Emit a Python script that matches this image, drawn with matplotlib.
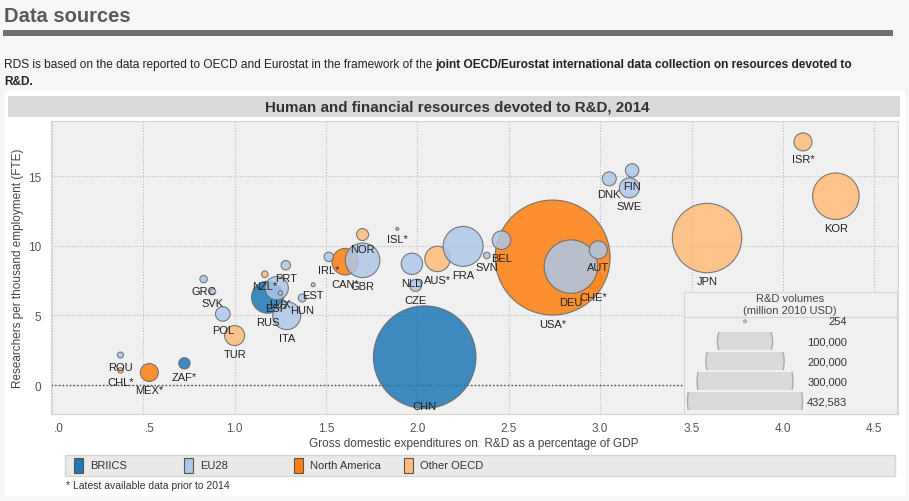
import numpy as np
import matplotlib.pyplot as plt
from matplotlib.patches import Rectangle, Circle
from matplotlib.transforms import ScaledTranslation

plt.rcParams['font.family'] = ['Liberation Sans', 'DejaVu Sans']

# ---- data ----
countries = ['CHN', 'RUS', 'ZAF*',
             'DEU', 'FRA', 'GBR', 'ITA', 'ESP', 'NLD', 'SWE', 'AUT', 'BEL', 'POL',
             'DNK', 'FIN', 'CZE', 'PRT', 'IRL*', 'HUN', 'GRC', 'SVN', 'SVK', 'ROU',
             'EST', 'LUX',
             'USA*', 'CAN*', 'MEX*',
             'JPN', 'KOR', 'AUS*', 'CHE*', 'TUR', 'ISR*', 'NOR', 'NZL*', 'CHL*', 'ISL*']
gerd_pct = [2.04, 1.18, 0.725,
            2.84, 2.25, 1.70, 1.285, 1.23, 1.97, 3.16, 2.99, 2.46, 0.935,
            3.05, 3.175, 1.99, 1.28, 1.515, 1.37, 0.83, 2.38, 0.88, 0.375,
            1.43, 1.25,
            2.74, 1.605, 0.533,
            3.585, 4.29, 2.11, 2.96, 1.0, 4.11, 1.70, 1.165, 0.375, 1.89]
researchers = [2.0, 6.3, 1.56,
               8.5, 9.95, 8.95, 4.98, 6.95, 8.7, 14.15, 9.7, 10.4, 5.1,
               14.8, 15.4, 7.15, 8.6, 9.2, 6.25, 7.6, 9.3, 6.7, 2.15,
               7.2, 6.6,
               9.15, 8.85, 0.9,
               10.55, 13.55, 9.05, 7.6, 3.55, 17.45, 10.8, 7.95, 1.05, 11.2]
volume = [344000, 33500, 4200,
          93300, 52300, 39200, 25600, 17800, 15000, 13100, 10600, 11300, 7000,
          6400, 5900, 4700, 2900, 2900, 2100, 1800, 1400, 1200, 1200,
          520, 600,
          432583, 23100, 10600,
          157500, 71000, 21100, 11300, 13100, 10600, 4700, 1400, 1000, 254]
group = (['BRIICS'] * 3 + ['EU28'] * 22 + ['North America'] * 3 + ['Other OECD'] * 10)

legend_groups = ['BRIICS', 'EU28', 'North America', 'Other OECD']
group_colors = {'BRIICS': '#1f77b4', 'EU28': '#aec7e8',
                'North America': '#ff7f0e', 'Other OECD': '#ffbb78'}
draw_order = ['Other OECD', 'BRIICS', 'North America', 'EU28']

size_legend_vals = [254, 100000, 200000, 300000, 432583]
size_legend_labels = ['254', '100,000', '200,000', '300,000', '432,583']

W, H = 909, 502
vmax = 432583
rmax_px = 57.5


def fx(px):
    return px / W


def fy(py):
    return 1 - py / H


fig = plt.figure(figsize=(W / 100, H / 100), dpi=100, facecolor='#f6f6f6')

# white panel and header
fig.patches.append(Rectangle((fx(5), fy(497)), 900 / W, 405 / H, transform=fig.transFigure,
                             facecolor='white', edgecolor='none', zorder=-5))
fig.text(fx(4), fy(16), 'Data sources', fontsize=14.5, weight='bold', color='#595959', va='center')
fig.patches.append(Rectangle((fx(3), fy(37)), 890 / W, 6 / H, transform=fig.transFigure,
                             facecolor='#6e6e6e', edgecolor='none', zorder=-4))

t1 = fig.text(fx(4), fy(65), 'RDS is based on the data reported to OECD and Eurostat in the framework of the ',
              fontsize=8.58, color='#222222', va='center')
fig.canvas.draw()
bb = t1.get_window_extent()
fig.text(bb.x1 / W, fy(65), 'joint OECD/Eurostat international data collection on resources devoted to',
         fontsize=8.58, color='#222222', va='center', weight='bold')
fig.text(fx(4), fy(82), 'R&D.', fontsize=8.58, color='#222222', va='center', weight='bold')

# title bar
fig.patches.append(Rectangle((fx(8), fy(118)), 892 / W, 21 / H, transform=fig.transFigure,
                             facecolor='#d9d9d9', edgecolor='none', zorder=-4))
fig.text(fx(457), fy(108), 'Human and financial resources devoted to R&D, 2014',
         fontsize=10.9, weight='bold', color='#333333', ha='center', va='center')

# main axes
ax = fig.add_axes([fx(51), fy(415), (898 - 51) / W, (415 - 122) / H])
ax.set_facecolor('#f0f0f0')
ax.set_xlim(-0.005, 4.63)
ax.set_ylim(-2.08, 18.95)
for s in ax.spines.values():
    s.set_color('#d6d6d6')
xt = np.arange(0, 4.51, 0.5)
ax.set_xticks(xt)
ax.set_xticklabels(['.0', '.5'] + ['%.1f' % v for v in xt[2:]])
ax.set_yticks([0, 5, 10, 15])
ax.tick_params(length=0, labelsize=8.5, colors='#555555')
ax.tick_params(axis='x', pad=6)
ax.tick_params(axis='y', pad=7)
for lab in ax.get_xticklabels()[:2]:
    lab.set_transform(lab.get_transform() + ScaledTranslation(7 / 100, 0, fig.dpi_scale_trans))
ax.grid(True, linestyle=':', color='#bdbdbd', linewidth=0.8)
ax.set_axisbelow(True)
ax.axhline(0, color='#444444', linestyle=':', linewidth=1, zorder=1)

fig.text(fx(474), fy(444), 'Gross domestic expenditures on  R&D as a percentage of GDP',
         fontsize=8.5, color='#444444', ha='center', va='center')
fig.text(fx(18), fy(268), 'Researchers per thousand employment (FTE)',
         fontsize=8.5, color='#444444', ha='center', va='center', rotation=90)

x = np.array(gerd_pct)
y = np.array(researchers)
v = np.array(volume, dtype=float)
g = np.array(group)
r_px = rmax_px * np.sqrt(v / vmax)
sizes = (2 * r_px * 0.72) ** 2

for k, grp in enumerate(draw_order):
    idx = np.where(g == grp)[0]
    idx = idx[np.argsort(-v[idx])]
    ax.scatter(x[idx], y[idx], s=sizes[idx], color=group_colors[grp], alpha=0.85,
               edgecolor='#666666', linewidth=0.8, zorder=2 + k)

# labels under each bubble
fig.canvas.draw()
px_per_unit = ax.transData.transform((0, 1))[1] - ax.transData.transform((0, 0))[1]
for name, xi, yi, ri in zip(countries, x, y, r_px):
    ly = yi - (ri + 8.5) / px_per_unit
    ly = max(ly, -1.5)
    ax.text(xi, ly, name, fontsize=8, color='#222222', ha='center', va='center', zorder=10)

# size legend box (pixel coordinates)
lx0, lx1, ly0, ly1 = 684, 897, 293, 415
axl = fig.add_axes([fx(lx0), fy(ly1), (lx1 - lx0) / W, (ly1 - ly0) / H], zorder=5)
axl.set_xlim(lx0, lx1)
axl.set_ylim(ly1, ly0)
axl.set_facecolor('#f0f0f0')
axl.set_xticks([])
axl.set_yticks([])
for s in axl.spines.values():
    s.set_color('#d6d6d6')
axl.text(790, 299.5, 'R&D volumes', fontsize=8, color='#444444', ha='center', va='center')
axl.text(790, 311.5, '(million 2010 USD)', fontsize=8, color='#444444', ha='center', va='center')
axl.plot([lx0, lx1], [317.5, 317.5], color='#d6d6d6', lw=1)
for i, (val, lab) in enumerate(zip(size_legend_vals, size_legend_labels)):
    cy = 322.3 + 20 * i
    rr = rmax_px * np.sqrt(val / vmax)
    c = Circle((745, cy), rr, facecolor='#d9d9d9', edgecolor='#aaaaaa', lw=1)
    axl.add_patch(c)
    clip = Rectangle((680, cy - 9), 220, 18, transform=axl.transData)
    c.set_clip_path(clip)
    axl.text(847, cy, lab, fontsize=8, color='#333333', ha='right', va='center')

# category legend bar
fig.patches.append(Rectangle((fx(65), fy(477)), 830 / W, 21 / H, transform=fig.transFigure,
                             facecolor='#e9e9e9', edgecolor='#d6d6d6', zorder=-4))
for i, grp in enumerate(legend_groups):
    x0 = 74 + 110 * i
    fig.patches.append(Rectangle((fx(x0), fy(474)), 9 / W, 15 / H, transform=fig.transFigure,
                                 facecolor=group_colors[grp], edgecolor='#555555', lw=0.8))
    fig.text(fx(x0 + 16), fy(466.5), grp, fontsize=8, color='#333333', va='center')

fig.text(fx(66), fy(486), '* Latest available data prior to 2014', fontsize=7.5,
         color='#333333', va='center')

fig.savefig('out.png', dpi=100, facecolor=fig.get_facecolor())
